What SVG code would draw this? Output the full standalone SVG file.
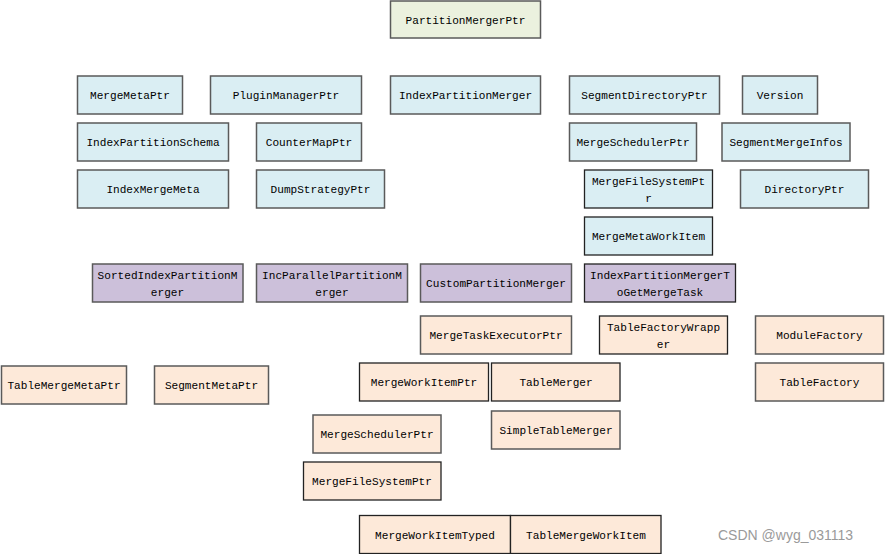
<svg xmlns="http://www.w3.org/2000/svg" width="885" height="554" viewBox="0 0 885 554">
<style>
g rect{stroke:#5a5a5a;stroke-width:1.5}
g.k rect{stroke:#222;stroke-width:1.3}
.g rect{fill:#ebf1de}
.b rect{fill:#daeef3}
.p rect{fill:#ccc0da}
.o rect{fill:#fde9d9}
text{font-family:"Liberation Mono","DejaVu Sans Mono",monospace;font-size:11.1px;fill:#000;text-anchor:middle}
.wm{font-family:"Liberation Sans","DejaVu Sans",sans-serif;font-size:14px;fill:#9a9a9a;text-anchor:start}
</style>
<rect width="885" height="554" fill="#fff"/>
<g id="PartitionMergerPtr" class="g"><rect x="390.5" y="1" width="150" height="37"/><text x="465.5" y="23.5">PartitionMergerPtr</text></g>
<g id="MergeMetaPtr" class="b"><rect x="77.5" y="76" width="105" height="38"/><text x="130" y="99">MergeMetaPtr</text></g>
<g id="PluginManagerPtr" class="b"><rect x="210.5" y="76" width="151" height="38"/><text x="286" y="99">PluginManagerPtr</text></g>
<g id="IndexPartitionMerger" class="b"><rect x="390.5" y="76" width="150" height="38"/><text x="465.5" y="99">IndexPartitionMerger</text></g>
<g id="SegmentDirectoryPtr" class="b"><rect x="569.5" y="76" width="150" height="38"/><text x="644.5" y="99">SegmentDirectoryPtr</text></g>
<g id="Version" class="b"><rect x="742.5" y="76" width="75" height="38"/><text x="780" y="99">Version</text></g>
<g id="IndexPartitionSchema" class="b"><rect x="77.5" y="123" width="151" height="38"/><text x="153" y="146">IndexPartitionSchema</text></g>
<g id="CounterMapPtr" class="b"><rect x="256.5" y="123" width="105" height="38"/><text x="309" y="146">CounterMapPtr</text></g>
<g id="MergeSchedulerPtr" class="b"><rect x="569.5" y="123" width="127" height="38"/><text x="633" y="146">MergeSchedulerPtr</text></g>
<g id="SegmentMergeInfos" class="b"><rect x="722" y="123" width="128" height="38"/><text x="786" y="146">SegmentMergeInfos</text></g>
<g id="IndexMergeMeta" class="b"><rect x="77.5" y="170" width="151" height="38"/><text x="153" y="193">IndexMergeMeta</text></g>
<g id="DumpStrategyPtr" class="b"><rect x="256.5" y="170" width="128" height="38"/><text x="320.5" y="193">DumpStrategyPtr</text></g>
<g id="MergeFileSystemPtr" class="b k"><rect x="584.5" y="170" width="128" height="38"/><text x="648.5" y="185">MergeFileSystemPt</text><text x="648.5" y="202">r</text></g>
<g id="DirectoryPtr" class="b"><rect x="740.5" y="170" width="128" height="38"/><text x="804.5" y="193">DirectoryPtr</text></g>
<g id="MergeMetaWorkItem" class="b k"><rect x="584.5" y="217" width="128" height="38"/><text x="648.5" y="240">MergeMetaWorkItem</text></g>
<g id="SortedIndexPartitionMerger" class="p"><rect x="92.5" y="264" width="150.5" height="38"/><text x="167.5" y="279">SortedIndexPartitionM</text><text x="167.5" y="296">erger</text></g>
<g id="IncParallelPartitionMerger" class="p"><rect x="256.5" y="264" width="151" height="38"/><text x="332" y="279">IncParallelPartitionM</text><text x="332" y="296">erger</text></g>
<g id="CustomPartitionMerger" class="p"><rect x="420.5" y="264" width="151" height="38"/><text x="496" y="287">CustomPartitionMerger</text></g>
<g id="IndexPartitionMergerToGetMergeTask" class="p k"><rect x="584.5" y="264" width="151" height="38"/><text x="660" y="279">IndexPartitionMergerT</text><text x="660" y="296">oGetMergeTask</text></g>
<g id="MergeTaskExecutorPtr" class="o"><rect x="420.5" y="316" width="151" height="38"/><text x="496" y="339">MergeTaskExecutorPtr</text></g>
<g id="TableFactoryWrapper" class="o k"><rect x="599.5" y="316" width="128" height="38"/><text x="663.5" y="331">TableFactoryWrapp</text><text x="663.5" y="348">er</text></g>
<g id="ModuleFactory" class="o"><rect x="755.5" y="316" width="128" height="38"/><text x="819.5" y="339">ModuleFactory</text></g>
<g id="TableMergeMetaPtr" class="o"><rect x="1.5" y="366" width="125" height="38"/><text x="64" y="389">TableMergeMetaPtr</text></g>
<g id="SegmentMetaPtr" class="o"><rect x="154.5" y="366" width="114" height="38"/><text x="211.5" y="389">SegmentMetaPtr</text></g>
<g id="MergeWorkItemPtr" class="o k"><rect x="359.5" y="363" width="129" height="38"/><text x="424" y="386">MergeWorkItemPtr</text></g>
<g id="TableMerger" class="o k"><rect x="491.5" y="363" width="128.5" height="38"/><text x="556" y="386">TableMerger</text></g>
<g id="TableFactory" class="o"><rect x="755.5" y="363" width="128" height="38"/><text x="819.5" y="386">TableFactory</text></g>
<g id="SimpleTableMerger" class="o"><rect x="491.5" y="411" width="128.5" height="38"/><text x="556" y="434">SimpleTableMerger</text></g>
<g id="MergeSchedulerPtr2" class="o"><rect x="313" y="415" width="128" height="38"/><text x="377" y="438">MergeSchedulerPtr</text></g>
<g id="MergeFileSystemPtr2" class="o k"><rect x="303.5" y="462" width="137.5" height="38"/><text x="372" y="485">MergeFileSystemPtr</text></g>
<g id="MergeWorkItemTyped" class="o k"><rect x="359.5" y="515.5" width="151" height="38"/><text x="435" y="538.5">MergeWorkItemTyped</text></g>
<g id="TableMergeWorkItem" class="o k"><rect x="510.5" y="515.5" width="150.5" height="38"/><text x="586" y="538.5">TableMergeWorkItem</text></g>
<g id="connectors"></g>
<text class="wm" x="718" y="540">CSDN @wyg_031113</text>
</svg>
